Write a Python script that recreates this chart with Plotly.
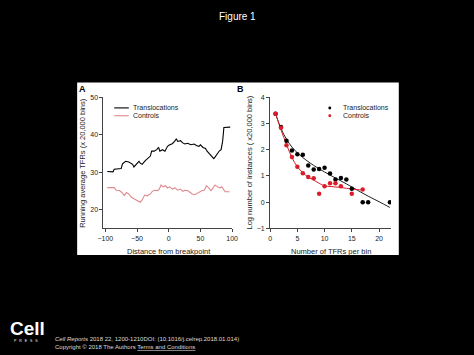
import plotly.graph_objects as go

W, H = 474, 355

# ---------------- Panel A data ----------------
a_trans_x = [-97, -88, -86, -80, -75, -73, -68, -63, -57, -55, -51, -47, -45, -42, -37, -33, -29, -27, -23, -19,
             -16, -14, -10, -6, -2, 1.5, 5.6, 9.2, 12, 14, 18.5, 22, 25.6, 29.7, 35, 40, 43.6, 47.7, 50, 54,
             58, 60.5, 64.6, 68, 71, 73, 76, 80, 82.6, 85, 87, 91, 97]
a_trans_y = [30.2, 30.1, 30.8, 31.0, 31.0, 32.2, 32.9, 32.7, 32.1, 31.4, 32.2, 32.9, 32.4, 32.1, 33.1, 33.6, 34.3, 35.6, 35.6, 36.0,
             36.6, 35.6, 36.0, 35.6, 36.9, 37.3, 37.6, 38.2, 38.9, 38.2, 38.4, 37.8, 37.5, 37.7, 37.3, 37.5, 37.1, 36.9, 37.3, 36.6,
             36.3, 35.6, 34.7, 34.0, 33.6, 34.0, 34.9, 35.7, 36.0, 38.2, 41.9, 42.0, 42.0]

a_ctrl_x = [-97, -86, -83, -78, -74, -70, -67, -63, -59, -55, -50, -45, -42, -38, -34, -29, -26, -22, -17.5, -15,
            -12, -9, -5, -2, 1.5, 5.6, 10, 14, 18.5, 22, 25.6, 29.7, 34, 37, 41, 45, 49, 53, 56, 59.5,
            63, 66.7, 70, 73, 77, 81, 83.6, 86, 89, 96]
a_ctrl_y = [25.9, 25.9, 25.2, 25.1, 24.6, 23.8, 24.6, 24.2, 23.3, 22.9, 22.4, 22.0, 22.6, 23.9, 23.7, 24.2, 24.9, 25.2, 25.1, 25.5,
            26.6, 26.1, 26.4, 25.8, 26.1, 25.5, 25.8, 25.2, 25.5, 24.9, 25.2, 25.1, 24.6, 24.2, 24.0, 24.4, 24.9, 25.1, 25.2, 26.4,
            25.8, 25.1, 25.8, 26.6, 26.1, 25.8, 26.1, 25.5, 24.8, 24.8]

a_xticks = [-100, -50, 0, 50, 100]
a_yticks = [20, 30, 40, 50]

# ---------------- Panel B data ----------------
b_trans_x = [1, 2, 3, 4, 5, 6, 7, 8, 9, 10, 11, 12, 13, 14, 15, 17, 18, 22]
b_trans_y = [3.37, 2.86, 2.34, 1.97, 1.83, 1.81, 1.40, 1.25, 1.26, 1.31, 1.09, 0.86, 0.92, 0.86, 0.51, 0.0, 0.0, 0.0]

b_ctrl_x = [1, 2, 3, 4, 5, 6, 7, 8, 9, 10, 11, 12, 13, 15, 17]
b_ctrl_y = [3.37, 2.83, 2.17, 1.72, 1.35, 1.10, 0.96, 0.91, 0.32, 0.61, 0.72, 0.72, 0.61, 0.32, 0.48]

b_trans_fit_x = [1, 2, 3, 4, 5, 6, 8, 10, 12, 14, 16, 18, 20, 22]
b_trans_fit_y = [3.37, 2.80, 2.40, 2.10, 1.88, 1.70, 1.40, 1.15, 0.92, 0.70, 0.46, 0.23, 0.02, -0.20]

b_ctrl_fit_x = [1, 2, 3, 4, 5, 6, 7, 8, 9, 10, 11, 12, 13, 14, 15, 16, 17]
b_ctrl_fit_y = [3.37, 2.75, 2.20, 1.70, 1.35, 1.12, 0.95, 0.84, 0.72, 0.62, 0.60, 0.58, 0.56, 0.53, 0.50, 0.48, 0.47]

b_xticks = [0, 5, 10, 15, 20]
b_yticks = [-1, 0, 1, 2, 3, 4]

BLACK = "#000000"
PINK = "#e08a8f"
RED = "#d81e2a"
TXT = "#222222"
FONT = "Liberation Sans, Arial, sans-serif"


def px_x(p):
    return p / W


def px_y(p):
    return 1 - p / H


fig = go.Figure()

fig.add_trace(go.Scatter(x=a_trans_x, y=a_trans_y, mode="lines", line=dict(color=BLACK, width=1.1),
                         xaxis="x", yaxis="y", showlegend=False))
fig.add_trace(go.Scatter(x=a_ctrl_x, y=a_ctrl_y, mode="lines", line=dict(color=PINK, width=1.1),
                         xaxis="x", yaxis="y", showlegend=False))

fig.add_trace(go.Scatter(x=b_trans_fit_x, y=b_trans_fit_y, mode="lines", line=dict(color="#222222", width=1, shape="spline"),
                         xaxis="x2", yaxis="y2", showlegend=False))
fig.add_trace(go.Scatter(x=b_ctrl_fit_x, y=b_ctrl_fit_y, mode="lines", line=dict(color=RED, width=1, shape="spline"),
                         xaxis="x2", yaxis="y2", showlegend=False))
fig.add_trace(go.Scatter(x=b_trans_x, y=b_trans_y, mode="markers", marker=dict(color=BLACK, size=4.5),
                         xaxis="x2", yaxis="y2", showlegend=False))
fig.add_trace(go.Scatter(x=b_ctrl_x, y=b_ctrl_y, mode="markers", marker=dict(color=RED, size=4.5),
                         xaxis="x2", yaxis="y2", showlegend=False))

axis_common = dict(showgrid=False, zeroline=False, showline=True, linecolor="#444444", linewidth=1,
                   ticks="outside", ticklen=3, tickcolor="#444444", tickwidth=1,
                   tickfont=dict(family=FONT, size=7, color=TXT))

fig.update_layout(
    width=W, height=H, margin=dict(l=0, r=0, t=0, b=0),
    paper_bgcolor="black", plot_bgcolor="white",
    font=dict(family=FONT),
    xaxis=dict(domain=[px_x(100), px_x(232)], range=[-103, 100], tickvals=a_xticks, anchor="y", **axis_common),
    yaxis=dict(domain=[px_y(229), px_y(95)], range=[15, 50], tickvals=a_yticks, anchor="x", **axis_common),
    xaxis2=dict(domain=[px_x(271), px_x(395)], range=[0, 22.2], tickvals=b_xticks, anchor="y2", **axis_common),
    yaxis2=dict(domain=[px_y(229), px_y(95)], range=[-1, 4], tickvals=b_yticks, anchor="x2", **axis_common),
)

shapes = [
    # white figure panel
    dict(type="rect", xref="paper", yref="paper", x0=px_x(73), x1=px_x(403), y0=px_y(256), y1=px_y(80),
         fillcolor="white", line=dict(width=0), layer="below"),
    # legend A samples
    dict(type="line", xref="paper", yref="paper", x0=px_x(111), x1=px_x(126), y0=px_y(106), y1=px_y(106),
         line=dict(color=BLACK, width=1.1)),
    dict(type="line", xref="paper", yref="paper", x0=px_x(111), x1=px_x(126), y0=px_y(114), y1=px_y(114),
         line=dict(color=PINK, width=1.1)),
    # legend B markers
    dict(type="circle", xref="paper", yref="paper", x0=px_x(330.7), x1=px_x(333.7), y0=px_y(107.5), y1=px_y(104.5),
         fillcolor=BLACK, line=dict(width=0)),
    dict(type="circle", xref="paper", yref="paper", x0=px_x(330.7), x1=px_x(333.7), y0=px_y(115.5), y1=px_y(112.5),
         fillcolor=RED, line=dict(width=0)),
]

def ann(text, x, y, size=7, color=TXT, xanchor="left", yanchor="middle", angle=0, **kw):
    return dict(text=text, xref="paper", yref="paper", x=px_x(x), y=px_y(y), showarrow=False,
                xanchor=xanchor, yanchor=yanchor, textangle=angle, borderpad=0,
                font=dict(family=FONT, size=size, color=color), **kw)

annotations = [
    ann("Figure 1", 237, 13, size=10, color="white", xanchor="center"),
    ann("<b>A</b>", 74, 87, size=9, color="black"),
    ann("<b>B</b>", 236, 87, size=9, color="black"),
    ann("Translocations", 129, 106, size=7),
    ann("Controls", 129, 114, size=7),
    ann("Translocations", 345, 106, size=7),
    ann("Controls", 345, 114, size=7),
    ann("Distance from breakpoint", 167, 252, size=7.5, xanchor="center"),
    ann("Number of TFRs per bin", 333, 252, size=7.5, xanchor="center"),
    ann("Running average TFRs (x 20,000 bins)", 79, 162, size=7.5, xanchor="center", angle=-90),
    ann("Log number of instances ( x20,000 bins)", 250, 162, size=7.5, xanchor="center", angle=-90),
    # footer
    ann("<b>Cell</b>", 3, 331, size=19, color="white"),
    ann("P   R   E   S   S", 7, 344, size=3.5, color="white"),
    ann("<i>Cell Reports</i> 2018 22, 1200-1210DOI: (10.1016/j.celrep.2018.01.014)", 49, 342, size=6, color="#dddddd"),
    ann("Copyright © 2018 The Authors <u>Terms and Conditions</u>", 49, 349.5, size=6, color="#dddddd"),
]

fig.update_layout(shapes=shapes, annotations=annotations)

fig.write_html(
    "out.html",
    config={"displayModeBar": False},
    post_script="document.body.style.margin='0';document.body.style.background='black';document.body.style.overflow='hidden';",
)
